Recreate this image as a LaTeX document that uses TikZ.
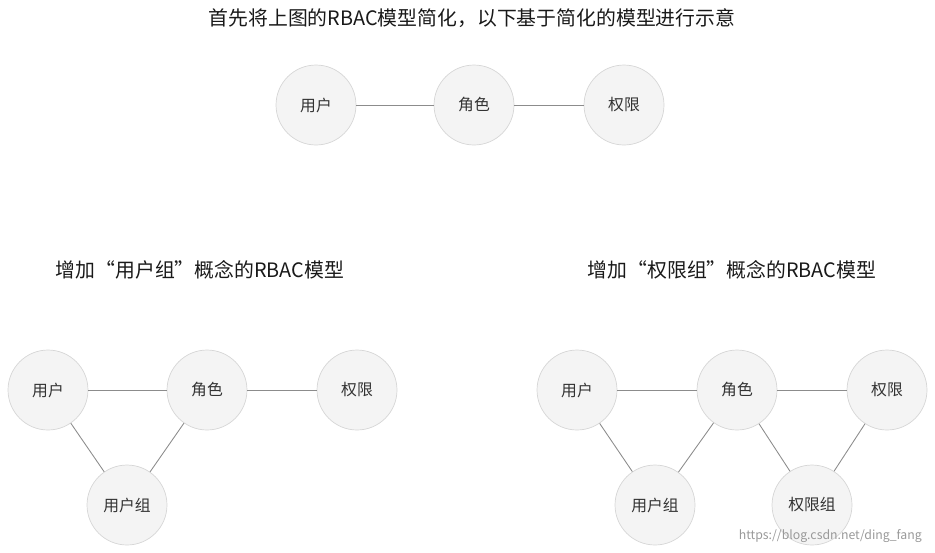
\documentclass[tikz,border=0pt]{standalone}
\usepackage{fontspec}
\setmainfont{Noto Sans CJK SC}
\definecolor{circfill}{HTML}{F4F4F4}
\definecolor{circline}{HTML}{D6D6D6}
\definecolor{linkgray}{HTML}{8C8C8C}
\tikzset{
  ent/.style={circle, minimum size=1.6cm, inner sep=0pt, fill=circfill, draw=circline, font=\fontsize{9}{11}\selectfont, text=black!80},
  heading/.style={font=\fontsize{11.3}{13}\selectfont, text=black!90},
  link/.style={draw=linkgray, line width=0.5pt}
}
\begin{document}
\begin{tikzpicture}[x=0.02cm, y=-0.02cm]
  \useasboundingbox (0,0) rectangle (935,552);
  % top
  \node (t0) [heading] at (472,18) {首先将上图的RBAC模型简化，以下基于简化的模型进行示意};
  \node (u0) [ent] at (316,105) {用户};
  \node (r0) [ent] at (474,105) {角色};
  \node (p0) [ent] at (624,105) {权限};
  \draw [link] (u0) -- (r0);
  \draw [link] (r0) -- (p0);
  % left
  \node (t1) [heading] at (200,270) {增加“用户组”概念的RBAC模型};
  \node (u1) [ent] at (48,390) {用户};
  \node (r1) [ent] at (207,390) {角色};
  \node (p1) [ent] at (357,390) {权限};
  \node (g1) [ent] at (127,505) {用户组};
  \draw [link] (u1) -- (r1);
  \draw [link] (r1) -- (p1);
  \draw [link] (u1) -- (g1);
  \draw [link] (g1) -- (r1);
  % right
  \node (t2) [heading] at (732,270) {增加“权限组”概念的RBAC模型};
  \node (u2) [ent] at (577,390) {用户};
  \node (r2) [ent] at (737,390) {角色};
  \node (p2) [ent] at (887,390) {权限};
  \node (g2) [ent] at (655,505) {用户组};
  \node (q2) [ent] at (812,505) {权限组};
  \draw [link] (u2) -- (r2);
  \draw [link] (r2) -- (p2);
  \draw [link] (u2) -- (g2);
  \draw [link] (g2) -- (r2);
  \draw [link] (r2) -- (q2);
  \draw [link] (q2) -- (p2);
  \node (wm) [font=\fontsize{7}{8}\selectfont, text=black!40, anchor=east] at (928,536) {https://blog.csdn.net/ding\_fang};
\end{tikzpicture}
\end{document}
